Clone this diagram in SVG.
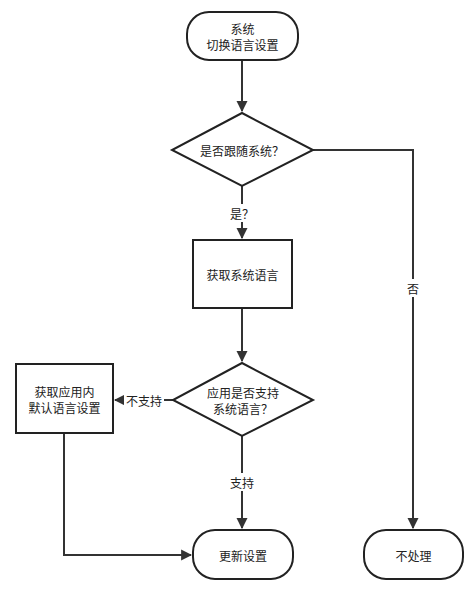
<svg xmlns="http://www.w3.org/2000/svg" width="474" height="592" viewBox="0 0 474 592">
<defs>
<style>
.s{fill:#fff;stroke:#222;stroke-width:2}
.t{font-family:"Noto Sans CJK SC","Liberation Sans",sans-serif;font-size:12px;fill:#222;text-anchor:middle;dominant-baseline:central}
.c{fill:none;stroke:#333;stroke-width:2}
.lb{fill:#fff}
</style>
<marker id="a" viewBox="0 0 10 10" refX="9" refY="5" markerWidth="5.5" markerHeight="6" orient="auto" markerUnits="strokeWidth">
<path d="M0,0 L10,5 L0,10 Z" fill="#333"/>
</marker>
</defs>
<rect width="474" height="592" fill="#fff"/>
<g id="connectors">
<path class="c" d="M242,60 V111" marker-end="url(#a)"/>
<path class="c" d="M242,186 V238" marker-end="url(#a)"/>
<path class="c" d="M242,308 V361" marker-end="url(#a)"/>
<path class="c" d="M242,436 V528" marker-end="url(#a)"/>
<path class="c" d="M313,150 H413 V528" marker-end="url(#a)"/>
<path class="c" d="M173,400 H115" marker-end="url(#a)"/>
<path class="c" d="M64,433 V555 H191" marker-end="url(#a)"/>
<rect class="lb" x="229" y="204" width="26" height="18"/>
<text class="t" x="242" y="213">是？</text>
<rect class="lb" x="405" y="279" width="16" height="18"/>
<text class="t" x="413" y="288">否</text>
<rect class="lb" x="124" y="391" width="40" height="18"/>
<text class="t" x="144" y="400">不支持</text>
<rect class="lb" x="229" y="473" width="26" height="18"/>
<text class="t" x="242" y="482">支持</text>
</g>
<g id="start">
<rect class="s" x="187" y="12" width="111" height="48" rx="22"/>
<text class="t" x="242.5" y="28">系统</text>
<text class="t" x="242.5" y="44">切换语言设置</text>
</g>
<g id="d1">
<polygon class="s" points="242,113 313,150 242,186 172,150"/>
<text class="t" x="242" y="150">是否跟随系统？</text>
</g>
<g id="getsys">
<rect class="s" x="193" y="240" width="99" height="68"/>
<text class="t" x="242.5" y="274">获取系统语言</text>
</g>
<g id="d2">
<polygon class="s" points="242,363 313,400 242,436 173,400"/>
<text class="t" x="243" y="392">应用是否支持</text>
<text class="t" x="243" y="408">系统语言？</text>
</g>
<g id="getapp">
<rect class="s" x="16" y="364" width="97" height="69"/>
<text class="t" x="64.5" y="391">获取应用内</text>
<text class="t" x="64.5" y="407">默认语言设置</text>
</g>
<g id="update">
<rect class="s" x="193" y="530" width="100" height="49" rx="22"/>
<text class="t" x="243" y="555">更新设置</text>
</g>
<g id="noop">
<rect class="s" x="364" y="530" width="99" height="49" rx="22"/>
<text class="t" x="413.5" y="555">不处理</text>
</g>
</svg>
